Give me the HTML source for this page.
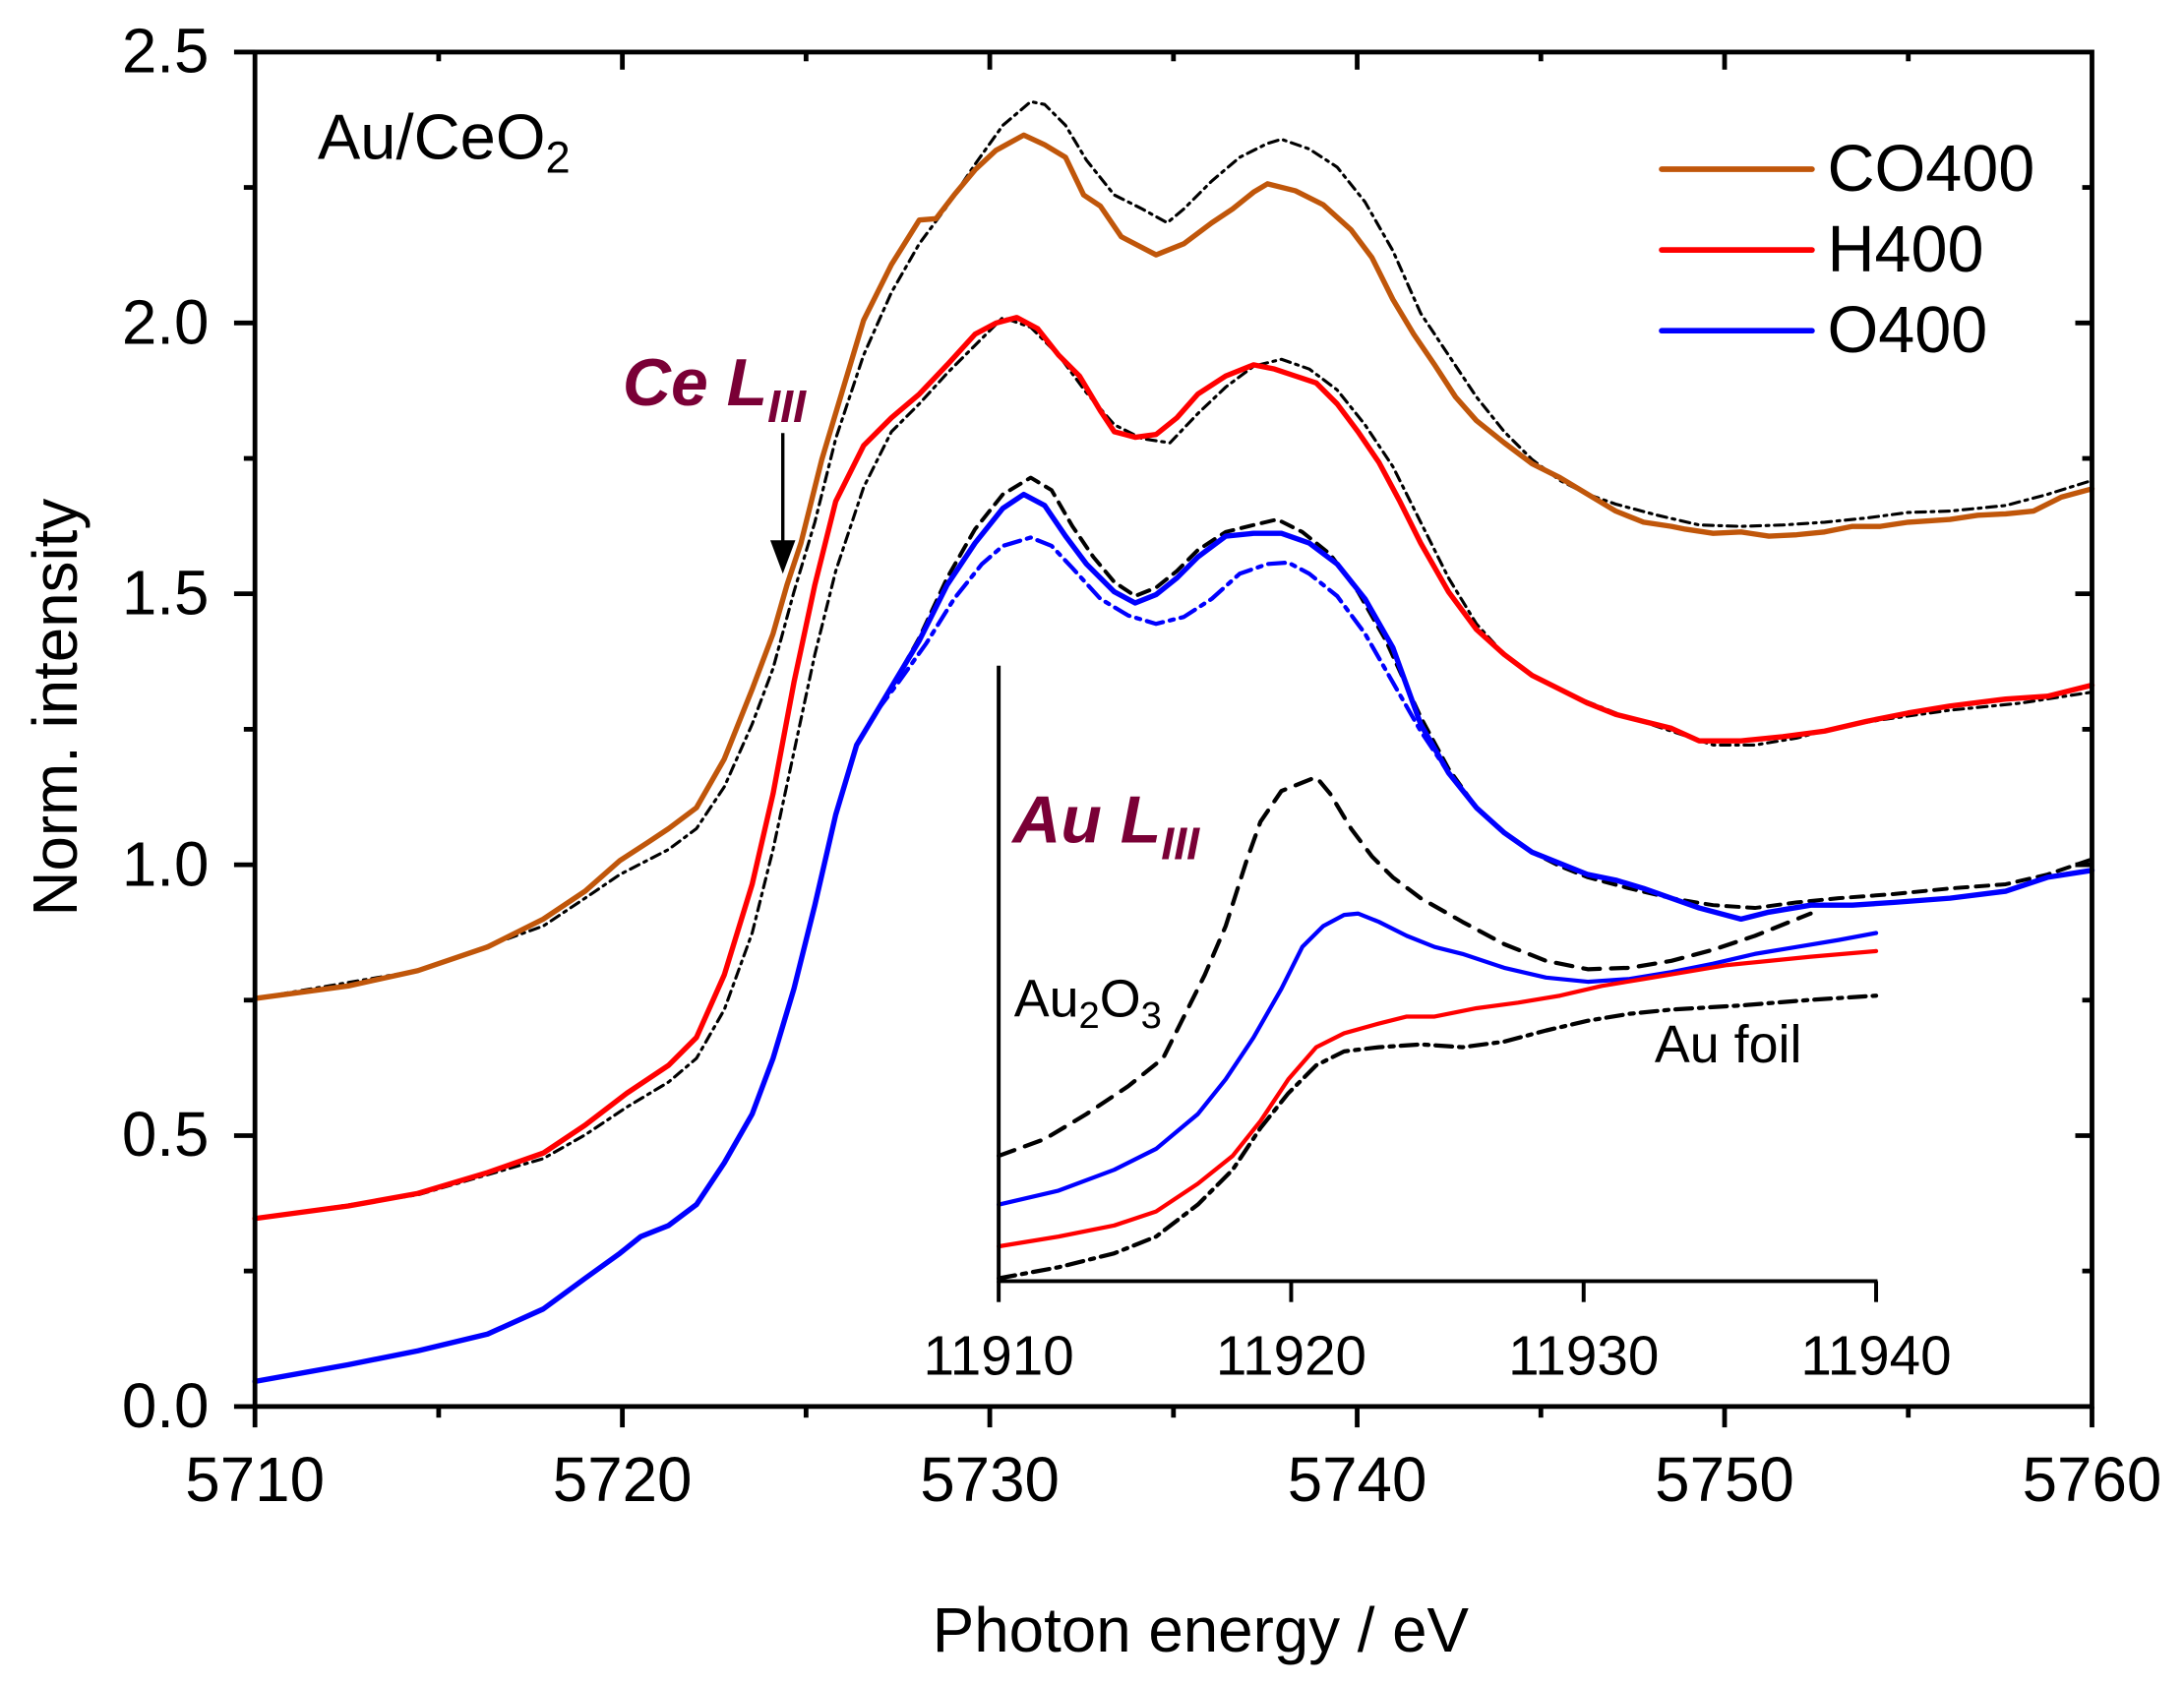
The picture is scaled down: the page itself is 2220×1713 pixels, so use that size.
<!DOCTYPE html>
<html><head><meta charset="utf-8"><style>html,body{margin:0;padding:0;background:#fff}svg{display:block}</style></head>
<body>
<svg width="2220" height="1713" viewBox="0 0 1568 1210" xmlns="http://www.w3.org/2000/svg" font-family="Liberation Sans, sans-serif">
<rect width="1568" height="1210" fill="#fff"/>
<g fill="none" stroke-linejoin="round" stroke-linecap="round">
<polyline stroke="#000" stroke-width="2.2" stroke-dasharray="7,4,2,4" points="183,717 300,697 390,665 420,645 445,628 480,610 500,595 520,565 540,520 555,480 570,425 585,375 600,315 620,255 640,210 660,175 680,148 700,118 720,90 740,73 750,75 765,90 780,115 800,140 820,150 838,160 850,150 870,130 890,113 910,103 920,100 940,107 960,120 980,145 1000,180 1020,225 1040,255 1060,285 1080,310 1100,330 1120,345 1140,355 1160,362 1190,370 1220,377 1250,378 1280,377 1310,375 1340,372 1370,368 1400,367 1440,363 1470,355 1502,345"/>
<polyline stroke="#C0560A" stroke-width="3.8" points="183,717 250,708 300,697 350,680 390,660 420,640 445,618 465,605 480,595 500,580 520,545 540,495 555,455 565,420 575,390 590,330 605,280 620,230 640,190 660,158 672,157 685,140 700,122 715,108 735,97 750,104 765,113 778,140 790,148 805,170 830,183 850,175 870,160 885,150 900,138 910,132 930,137 950,147 970,165 985,185 1000,215 1015,240 1030,262 1045,285 1060,302 1080,318 1100,333 1120,343 1140,355 1160,367 1180,375 1200,378 1210,380 1230,383 1250,382 1270,385 1290,384 1310,382 1330,378 1350,378 1370,375 1400,373 1420,370 1440,369 1460,367 1480,357 1502,351"/>
<polyline stroke="#000" stroke-width="2.2" stroke-dasharray="7,4,2,4" points="183,875 300,858 390,832 420,815 450,795 480,777 500,760 520,725 540,670 555,610 570,540 585,470 600,410 620,350 640,310 660,290 680,268 700,248 720,228 740,235 760,255 780,282 800,305 820,315 840,318 860,297 880,278 900,263 920,258 940,265 960,280 980,305 1000,335 1020,375 1040,415 1060,448 1080,470 1100,485 1130,500 1160,512 1200,525 1230,535 1260,535 1290,530 1320,522 1350,517 1400,510 1450,505 1502,497"/>
<polyline stroke="#FF0000" stroke-width="3.8" points="183,875 250,866 300,857 350,842 390,828 420,808 450,785 480,765 500,745 520,700 540,635 555,570 570,490 585,420 600,360 620,320 640,300 660,283 680,262 700,240 715,232 730,228 745,236 760,255 775,270 790,295 800,310 815,314 830,312 845,300 860,283 880,270 900,262 915,265 930,270 945,275 960,290 975,310 990,332 1005,360 1020,390 1040,425 1060,452 1080,470 1100,485 1120,495 1140,505 1160,513 1180,518 1200,523 1220,532 1250,532 1280,529 1310,525 1340,518 1370,512 1400,507 1440,502 1470,500 1502,492"/>
<polyline stroke="#000" stroke-width="2.8" stroke-dasharray="9,6" points="183,992 250,980 300,970 350,958 390,940 420,918 445,900 460,888 480,880 500,865 520,835 540,800 555,760 570,710 585,650 600,585 615,535 630,510 645,485 660,458 680,415 700,380 720,355 740,343 755,352 770,378 785,400 800,418 815,428 830,422 845,410 860,395 880,382 900,377 917,373 935,382 955,398 975,425 995,460 1020,515 1040,552 1060,580 1080,598 1100,612 1120,622 1140,630 1170,638 1200,645 1230,650 1260,652 1290,648 1320,645 1360,642 1400,638 1440,635 1470,628 1502,617"/>
<polyline stroke="#0000FF" stroke-width="3" stroke-dasharray="12,5,3,5" points="630,510 645,490 665,462 685,430 705,405 720,392 740,386 755,392 770,408 790,430 810,442 830,448 850,443 870,430 890,412 910,405 925,404 940,412 960,428 980,455 1000,490 1020,525 1040,555"/>
<polyline stroke="#0000FF" stroke-width="3.8" points="183,992 250,980 300,970 350,958 390,940 420,918 445,900 460,888 480,880 500,865 520,835 540,800 555,760 570,710 585,650 600,585 615,535 630,510 645,485 660,460 680,420 700,390 720,365 735,355 750,363 765,385 780,405 800,425 815,433 830,427 845,415 860,400 880,385 900,383 920,383 940,390 960,405 980,430 1000,465 1020,520 1040,555 1060,580 1080,598 1100,612 1120,620 1140,628 1160,632 1180,638 1200,645 1220,652 1250,660 1270,655 1300,650 1330,650 1360,648 1400,645 1440,640 1470,630 1502,625"/>
<polyline stroke="#000" stroke-width="3" stroke-dasharray="12,8" points="717,830 750,818 780,800 810,780 835,760 850,730 865,700 880,665 895,618 905,590 920,568 935,562 945,558 955,570 970,595 985,615 1000,630 1020,645 1050,662 1080,678 1110,690 1140,696 1170,695 1200,690 1230,682 1260,672 1290,660 1300,656"/>
<polyline stroke="#0000FF" stroke-width="3" points="717,865 760,855 800,840 830,825 860,800 880,775 900,745 920,710 935,680 950,665 965,657 975,656 990,662 1010,672 1030,680 1050,685 1080,695 1110,702 1140,705 1170,703 1200,698 1230,692 1260,685 1290,680 1320,675 1347,670"/>
<polyline stroke="#FF0000" stroke-width="3" points="717,895 760,888 800,880 830,870 860,850 885,830 905,805 925,775 945,752 965,742 990,735 1010,730 1030,730 1060,724 1090,720 1120,715 1150,708 1180,703 1210,698 1240,693 1270,690 1300,687 1347,683"/>
<polyline stroke="#000" stroke-width="3" stroke-dasharray="12,5,3,5" points="717,918 760,910 800,900 830,888 860,865 885,840 905,810 925,785 945,765 965,755 990,752 1020,750 1050,752 1080,748 1110,740 1140,733 1170,728 1200,725 1250,722 1300,718 1347,715"/>
</g>
<g stroke="#000" stroke-width="2.8" fill="none">
<line x1="717" y1="478" x2="717" y2="921"/>
<line x1="716" y1="920" x2="1348" y2="920"/>
<line x1="927" y1="920" x2="927" y2="935"/>
<line x1="1137" y1="920" x2="1137" y2="935"/>
<line x1="1347" y1="920" x2="1347" y2="935"/>
<line x1="717" y1="920" x2="717" y2="935"/>
</g>
<g font-size="40" text-anchor="middle" fill="#000">
<text x="717" y="987">11910</text><text x="927" y="987">11920</text><text x="1137" y="987">11930</text><text x="1347" y="987">11940</text>
</g>
<g stroke="#000" stroke-width="3.4" fill="none">
<rect x="183" y="37.4" width="1319" height="972.6"/>
<line x1="183" y1="1010" x2="183" y2="1025"/><line x1="446.8" y1="1010" x2="446.8" y2="1025"/><line x1="710.6" y1="1010" x2="710.6" y2="1025"/><line x1="974.4" y1="1010" x2="974.4" y2="1025"/><line x1="1238.2" y1="1010" x2="1238.2" y2="1025"/><line x1="1502" y1="1010" x2="1502" y2="1025"/>
<line x1="314.9" y1="1010" x2="314.9" y2="1018"/><line x1="578.7" y1="1010" x2="578.7" y2="1018"/><line x1="842.5" y1="1010" x2="842.5" y2="1018"/><line x1="1106.3" y1="1010" x2="1106.3" y2="1018"/><line x1="1370.1" y1="1010" x2="1370.1" y2="1018"/>
<line x1="446.8" y1="37.4" x2="446.8" y2="50"/><line x1="710.6" y1="37.4" x2="710.6" y2="50"/><line x1="974.4" y1="37.4" x2="974.4" y2="50"/><line x1="1238.2" y1="37.4" x2="1238.2" y2="50"/>
<line x1="314.9" y1="37.4" x2="314.9" y2="44"/><line x1="578.7" y1="37.4" x2="578.7" y2="44"/><line x1="842.5" y1="37.4" x2="842.5" y2="44"/><line x1="1106.3" y1="37.4" x2="1106.3" y2="44"/><line x1="1370.1" y1="37.4" x2="1370.1" y2="44"/>
<line x1="168" y1="1010" x2="183" y2="1010"/><line x1="168" y1="815.5" x2="183" y2="815.5"/><line x1="168" y1="621" x2="183" y2="621"/><line x1="168" y1="426.4" x2="183" y2="426.4"/><line x1="168" y1="231.9" x2="183" y2="231.9"/><line x1="168" y1="37.4" x2="183" y2="37.4"/>
<line x1="175" y1="912.7" x2="183" y2="912.7"/><line x1="175" y1="718.2" x2="183" y2="718.2"/><line x1="175" y1="523.7" x2="183" y2="523.7"/><line x1="175" y1="329.2" x2="183" y2="329.2"/><line x1="175" y1="134.6" x2="183" y2="134.6"/>
<line x1="1490" y1="815.5" x2="1502" y2="815.5"/><line x1="1490" y1="621" x2="1502" y2="621"/><line x1="1490" y1="426.4" x2="1502" y2="426.4"/><line x1="1490" y1="231.9" x2="1502" y2="231.9"/>
<line x1="1495" y1="912.7" x2="1502" y2="912.7"/><line x1="1495" y1="718.2" x2="1502" y2="718.2"/><line x1="1495" y1="523.7" x2="1502" y2="523.7"/><line x1="1495" y1="329.2" x2="1502" y2="329.2"/><line x1="1495" y1="134.6" x2="1502" y2="134.6"/>
</g>
<g font-size="45" fill="#000">
<g text-anchor="end"><text x="150" y="1025">0.0</text><text x="150" y="830">0.5</text><text x="150" y="636">1.0</text><text x="150" y="441">1.5</text><text x="150" y="247">2.0</text><text x="150" y="52">2.5</text></g>
<g text-anchor="middle"><text x="183" y="1078">5710</text><text x="446.8" y="1078">5720</text><text x="710.6" y="1078">5730</text><text x="974.4" y="1078">5740</text><text x="1238.2" y="1078">5750</text><text x="1502" y="1078">5760</text></g>
<text x="862" y="1186" text-anchor="middle">Photon energy / eV</text>
<text transform="translate(55,508) rotate(-90)" text-anchor="middle">Norm. intensity</text>
<text x="228" y="114" font-size="46">Au/CeO<tspan font-size="32" dy="10">2</tspan></text>
<g font-size="47"><text x="1312" y="137">CO400</text><text x="1312" y="195">H400</text><text x="1312" y="253">O400</text></g>
</g>
<g stroke-width="4" stroke-linecap="round">
<line x1="1193" y1="121.5" x2="1301" y2="121.5" stroke="#C0560A"/>
<line x1="1193" y1="179.5" x2="1301" y2="179.5" stroke="#FF0000"/>
<line x1="1193" y1="237.5" x2="1301" y2="237.5" stroke="#0000FF"/>
</g>
<g font-weight="bold" font-style="italic" fill="#7A0036" font-size="48">
<text x="447" y="291">Ce L<tspan font-size="33" dy="12">III</tspan></text>
<text x="727" y="605">Au L<tspan font-size="33" dy="12">III</tspan></text>
</g>
<line x1="562" y1="311" x2="562" y2="392" stroke="#000" stroke-width="2.4"/>
<polygon points="553,388 571,388 562,412" fill="#000"/>
<g font-size="38" fill="#000">
<text x="728" y="730">Au<tspan font-size="27" dy="8">2</tspan><tspan dy="-8">O</tspan><tspan font-size="27" dy="8">3</tspan></text>
<text x="1188" y="763">Au foil</text>
</g>
</svg>
</body></html>
